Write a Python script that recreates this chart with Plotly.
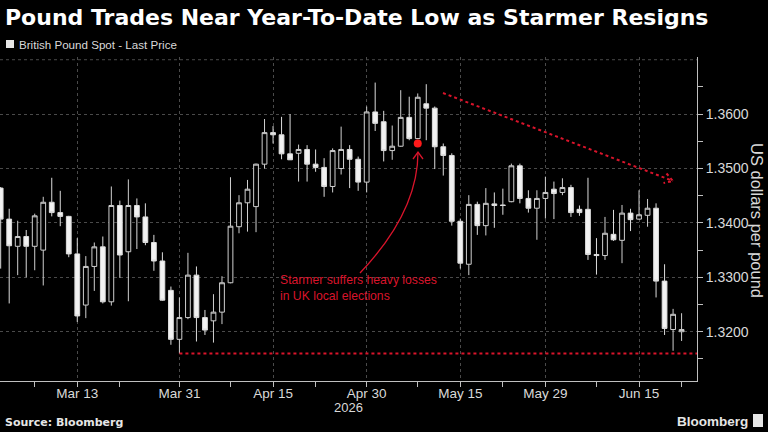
import plotly.graph_objects as go
import pandas as pd

# ---- data ----
dates = list(pd.bdate_range("2026-03-02", "2026-06-22"))
opens = [1.3464, 1.3407, 1.3357, 1.3375, 1.3357, 1.3350, 1.3438, 1.3419, 1.3412, 1.3343,
         1.3249, 1.3320, 1.3356, 1.3255, 1.3432, 1.3347, 1.3432, 1.3411, 1.3364, 1.3330,
         1.3276, 1.3186, 1.3226, 1.3304, 1.3226, 1.3220, 1.3236, 1.3290,
         1.3393, 1.3437, 1.3430, 1.3508, 1.3566, 1.3562, 1.3527, 1.3528, 1.3535, 1.3508,
         1.3502, 1.3467, 1.3500, 1.3535, 1.3517, 1.3475, 1.3604, 1.3586, 1.3533, 1.3541,
         1.3594, 1.3555, 1.3619, 1.3611, 1.3540, 1.3524, 1.3403,
         1.3324, 1.3434, 1.3395, 1.3435, 1.3433, 1.3439, 1.3505, 1.3445, 1.3427, 1.3445,
         1.3462, 1.3456, 1.3465, 1.3425, 1.3425, 1.3342, 1.3340, 1.3379, 1.3368, 1.3418,
         1.3407, 1.3414, 1.3427, 1.3293, 1.3204, 1.3200]
highs = [1.3466, 1.3426, 1.3404, 1.3387, 1.3417, 1.3448, 1.3483, 1.3459, 1.3413, 1.3372,
         1.3339, 1.3364, 1.3375, 1.3467, 1.3441, 1.3480, 1.3445, 1.3436, 1.3378, 1.3346,
         1.3283, 1.3263, 1.3345, 1.3320, 1.3240, 1.3269, 1.3302, 1.3484,
         1.3451, 1.3479, 1.3509, 1.3591, 1.3578, 1.3595, 1.3600, 1.3544, 1.3543, 1.3535,
         1.3519, 1.3537, 1.3577, 1.3543, 1.3522, 1.3614, 1.3658, 1.3606, 1.3579, 1.3644,
         1.3632, 1.3638, 1.3655, 1.3614, 1.3546, 1.3528, 1.3408,
         1.3451, 1.3439, 1.3464, 1.3456, 1.3463, 1.3509, 1.3509, 1.3460, 1.3460, 1.3485,
         1.3476, 1.3482, 1.3470, 1.3432, 1.3483, 1.3372, 1.3411, 1.3424, 1.3433, 1.3426,
         1.3460, 1.3444, 1.3436, 1.3324, 1.3242, 1.3234]
lows = [1.3316, 1.3252, 1.3304, 1.3300, 1.3313, 1.3285, 1.3412, 1.3394, 1.3337, 1.3218,
        1.3225, 1.3275, 1.3252, 1.3248, 1.3299, 1.3256, 1.3352, 1.3359, 1.3312, 1.3257,
        1.3176, 1.3160, 1.3223, 1.3182, 1.3194, 1.3180, 1.3214, 1.3289,
        1.3381, 1.3384, 1.3383, 1.3500, 1.3546, 1.3517, 1.3516, 1.3476, 1.3476, 1.3494,
        1.3448, 1.3456, 1.3489, 1.3464, 1.3459, 1.3456, 1.3569, 1.3513, 1.3516, 1.3540,
        1.3552, 1.3554, 1.3552, 1.3499, 1.3487, 1.3395, 1.3316,
        1.3304, 1.3378, 1.3377, 1.3391, 1.3415, 1.3438, 1.3436, 1.3419, 1.3369, 1.3408,
        1.3407, 1.3451, 1.3411, 1.3413, 1.3332, 1.3305, 1.3332, 1.3367, 1.3326, 1.3385,
        1.3406, 1.3393, 1.3263, 1.3194, 1.3165, 1.3183]
closes = [1.3407, 1.3358, 1.3375, 1.3357, 1.3413, 1.3438, 1.3419, 1.3412, 1.3343, 1.3229,
          1.3320, 1.3356, 1.3255, 1.3432, 1.3341, 1.3432, 1.3411, 1.3364, 1.3330, 1.3258,
          1.3186, 1.3226, 1.3304, 1.3226, 1.3203, 1.3236, 1.3290, 1.3394,
          1.3437, 1.3462, 1.3508, 1.3566, 1.3562, 1.3527, 1.3516, 1.3535, 1.3508, 1.3502,
          1.3467, 1.3533, 1.3535, 1.3517, 1.3475, 1.3604, 1.3583, 1.3533, 1.3541, 1.3594,
          1.3555, 1.3631, 1.3611, 1.3540, 1.3524, 1.3403, 1.3326,
          1.3434, 1.3395, 1.3436, 1.3432, 1.3432, 1.3505, 1.3445, 1.3427, 1.3445, 1.3456,
          1.3454, 1.3465, 1.3419, 1.3419, 1.3342, 1.3340, 1.3381, 1.3369, 1.3418, 1.3406,
          1.3415, 1.3427, 1.3293, 1.3206, 1.3232, 1.3204]

tick_dates = ["2026-03-13", "2026-03-31", "2026-04-15", "2026-04-30",
              "2026-05-15", "2026-05-29", "2026-06-15"]
minor_tick_dates = ["2026-03-06", "2026-03-20", "2026-04-08", "2026-04-22",
                    "2026-05-08", "2026-05-22", "2026-06-08", "2026-06-22"]
y_ticks = [1.32, 1.33, 1.34, 1.35, 1.36]
y_minor = [1.315, 1.325, 1.335, 1.345, 1.355, 1.365]
event_date = "2026-05-08"
event_value = 1.3546
ytd_low_date = "2026-03-31"
ytd_low_value = 1.3160

# ---- helpers ----
date_idx = {d.strftime("%Y-%m-%d"): i for i, d in enumerate(dates)}
x = list(range(len(dates)))
RED = "#d9142b"
GRID = "#4a4a4a"
AX = "#bfbfbf"
TXT = "#d9d9d9"

L, R, T, B = 0, 71, 57, 51
PW, PH = 768 - L - R, 432 - T - B


def P(px, py):
    return (px - L) / PW, (432 - B - py) / PH


fig = go.Figure()
fig.add_trace(go.Candlestick(
    x=x, open=opens, high=highs, low=lows, close=closes,
    increasing=dict(line=dict(color="#cfcfcf", width=1), fillcolor="#000000"),
    decreasing=dict(line=dict(color="#dcdcdc", width=1), fillcolor="#f2f2f2"),
    whiskerwidth=0, showlegend=False, hoverinfo="skip"))

fig.add_trace(go.Scatter(
    x=[date_idx[event_date]], y=[event_value], mode="markers",
    marker=dict(color="#ff1a1a", size=8), showlegend=False, hoverinfo="skip"))

shapes = []
# 1.37 gridline at the top
shapes.append(dict(type="line", xref="paper", yref="y", x0=0, x1=1, y0=1.37, y1=1.37,
                   line=dict(color=GRID, width=1, dash="dot"), layer="below"))
# YTD low dotted line
shapes.append(dict(type="line", xref="x", yref="y", x0=date_idx[ytd_low_date], x1=81.81,
                   y0=ytd_low_value, y1=ytd_low_value,
                   line=dict(color=RED, width=2, dash="dot")))
# downward trend arrow
a0 = P(443, 93)
a1 = P(673, 181)
shapes.append(dict(type="line", xref="paper", yref="paper", x0=a0[0], y0=a0[1], x1=a1[0], y1=a1[1],
                   line=dict(color=RED, width=2, dash="dot")))
h1 = P(666.5, 173.5)
h2 = P(663.5, 183)
shapes.append(dict(type="path", xref="paper", yref="paper",
                   path=f"M {h1[0]},{h1[1]} L {a1[0]},{a1[1]} L {h2[0]},{h2[1]}",
                   line=dict(color=RED, width=2, dash="dot")))
# curved arrow from annotation to the event dot
c0 = P(360, 273)
cc = P(418, 212)
c1 = P(418, 152)
shapes.append(dict(type="path", xref="paper", yref="paper",
                   path=f"M {c0[0]},{c0[1]} Q {cc[0]},{cc[1]} {c1[0]},{c1[1]}",
                   line=dict(color=RED, width=1.3)))
k1 = P(413, 159)
k2 = P(423, 159)
shapes.append(dict(type="path", xref="paper", yref="paper",
                   path=f"M {k1[0]},{k1[1]} L {c1[0]},{c1[1]} L {k2[0]},{k2[1]}",
                   line=dict(color=RED, width=1.3)))
# legend swatch
s0 = P(6, 48)
s1 = P(14, 40)
shapes.append(dict(type="rect", xref="paper", yref="paper", x0=s0[0], y0=s0[1], x1=s1[0], y1=s1[1],
                   fillcolor="#e6e6e6", line=dict(width=0)))
# bloomberg icon
b0 = P(753, 427)
b1 = P(763, 414)
shapes.append(dict(type="rect", xref="paper", yref="paper", x0=b0[0], y0=b0[1], x1=b1[0], y1=b1[1],
                   fillcolor="#e6e6e6", line=dict(width=0)))

ann = []
lx, ly = P(17, 44)
ann.append(dict(xref="paper", yref="paper", x=lx, y=ly, xanchor="left", yanchor="middle",
                text="British Pound Spot - Last Price", showarrow=False,
                font=dict(family="Liberation Sans", size=11.6, color=TXT)))
tx, ty = P(278, 288)
ann.append(dict(xref="paper", yref="paper", x=tx, y=ty, xanchor="left", yanchor="middle", align="left",
                text="Starmer suffers heavy losses<br>in UK local elections", showarrow=False,
                font=dict(family="Liberation Sans", size=12.2, color=RED)))
yx, yy = P(757, 220)
ann.append(dict(xref="paper", yref="paper", x=yx, y=yy, xanchor="center", yanchor="middle",
                text="US dollars per pound", textangle=90, showarrow=False,
                font=dict(family="Liberation Sans", size=16.5, color=TXT)))
_, y26 = P(0, 407)
ann.append(dict(xref="paper", yref="paper", x=0.5, y=y26, xanchor="center", yanchor="middle",
                text="2026", showarrow=False,
                font=dict(family="Liberation Sans", size=13, color=TXT)))
sx, sy = P(3, 423)
ann.append(dict(xref="paper", yref="paper", x=sx, y=sy, xanchor="left", yanchor="middle",
                text="<b>Source: Bloomberg</b>", showarrow=False,
                font=dict(family="DejaVu Sans", size=11, color="#e6e6e6")))
bx, by = P(750, 421)
ann.append(dict(xref="paper", yref="paper", x=bx, y=by, xanchor="right", yanchor="middle",
                text="<b>Bloomberg</b>", showarrow=False,
                font=dict(family="Liberation Sans", size=13.5, color="#e6e6e6")))

fig.update_layout(
    width=768, height=432,
    margin=dict(l=L, r=R, t=T, b=B),
    paper_bgcolor="#000000", plot_bgcolor="#000000",
    boxgap=0.2,
    title=dict(text="<b>Pound Trades Near Year-To-Date Low as Starmer Resigns</b>",
               x=5 / 768, xanchor="left", xref="container",
               y=1 - 17 / 432, yanchor="middle", yref="container",
               font=dict(family="DejaVu Sans", size=22, color="#ffffff")),
    shapes=shapes, annotations=ann,
    showlegend=False,
    xaxis=dict(
        range=[-0.08, 81.81], rangeslider=dict(visible=False),
        tickmode="array", tickvals=[date_idx[d] for d in tick_dates],
        ticktext=[pd.Timestamp(d).strftime("%b %-d") for d in tick_dates],
        showgrid=True, gridcolor=GRID, griddash="dot", gridwidth=1,
        showline=True, linecolor=AX, linewidth=1,
        ticks="outside", ticklen=5, tickcolor=AX,
        ticklabelstandoff=-5,
        minor=dict(tickmode="array", tickvals=[date_idx[d] for d in minor_tick_dates],
                   ticks="outside", ticklen=5, tickcolor=AX, showgrid=False),
        tickfont=dict(family="Liberation Sans", size=13.5, color=TXT),
        zeroline=False, fixedrange=True),
    yaxis=dict(
        side="right", range=[1.31094, 1.3705],
        tickmode="array", tickvals=y_ticks, tickformat=".4f",
        showgrid=True, gridcolor=GRID, griddash="dot", gridwidth=1,
        showline=True, linecolor=AX, linewidth=1,
        ticks="outside", ticklen=5, tickcolor=AX,
        minor=dict(tickmode="array", tickvals=y_minor, ticks="outside", ticklen=5,
                   tickcolor=AX, showgrid=False),
        tickfont=dict(family="Liberation Sans", size=14, color=TXT),
        zeroline=False, fixedrange=True),
)

fig.write_html("out.html")
